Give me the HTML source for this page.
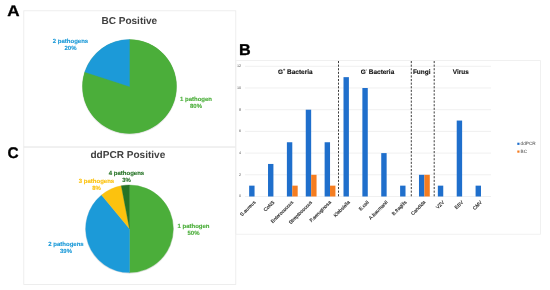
<!DOCTYPE html>
<html><head><meta charset="utf-8"><title>Figure</title>
<style>html,body{margin:0;padding:0;background:#fff;}svg{display:block;}</style></head>
<body>
<svg width="550" height="290" viewBox="0 0 550 290" font-family="Liberation Sans, Arial, sans-serif" text-rendering="geometricPrecision">
<rect width="550" height="290" fill="#ffffff"/>
<g fill="none" stroke="#e9e9e9" stroke-width="0.8">
<rect x="23.8" y="10.8" width="212" height="136.2"/>
<rect x="23.8" y="147" width="212" height="137.5"/>
<rect x="235.8" y="60.6" width="304.8" height="173.6" stroke="#ededed"/>
</g>
<circle cx="129.5" cy="87" r="47.6" fill="#000" opacity="0.10"/>
<circle cx="129.5" cy="86.5" r="46.8" fill="#4bae3a"/>
<path d="M129.50,86.50 L129.50,39.50 A47,47 0 1 1 84.80,71.98 Z" fill="#4bae3a" stroke="#4bae3a" stroke-width="0.35" stroke-linejoin="round"/>
<path d="M129.50,86.50 L84.80,71.98 A47,47 0 0 1 129.50,39.50 Z" fill="#1c9ad8" stroke="#1c9ad8" stroke-width="0.35" stroke-linejoin="round"/>
<circle cx="129.5" cy="229.3" r="44.4" fill="#000" opacity="0.10"/>
<path d="M129.50,228.80 L129.50,185.00 A43.8,43.8 0 0 1 129.50,272.60 Z" fill="#4bae3a" stroke="#4bae3a" stroke-width="0.35" stroke-linejoin="round"/>
<path d="M129.50,228.80 L129.50,272.60 A43.8,43.8 0 0 1 101.58,195.05 Z" fill="#1c9ad8" stroke="#1c9ad8" stroke-width="0.35" stroke-linejoin="round"/>
<path d="M129.50,228.80 L101.58,195.05 A43.8,43.8 0 0 1 121.29,185.78 Z" fill="#fcc20e" stroke="#fcc20e" stroke-width="0.35" stroke-linejoin="round"/>
<path d="M129.50,228.80 L121.29,185.78 A43.8,43.8 0 0 1 129.50,185.00 Z" fill="#267326" stroke="#267326" stroke-width="0.35" stroke-linejoin="round"/>
<g font-weight="bold" text-anchor="middle">
<text x="129.3" y="24.2" font-size="10.05" fill="#404040">BC Positive</text>
<text x="127.9" y="157.5" font-size="10.05" fill="#404040">ddPCR Positive</text>
<g font-size="6" fill="#1c9ad8" stroke="#1c9ad8" stroke-width="0.12"><text x="70.5" y="42.8">2 pathogens</text><text x="70.5" y="49.8">20%</text></g>
<g font-size="6" fill="#4bae3a" stroke="#4bae3a" stroke-width="0.12"><text x="196" y="101.2">1 pathogen</text><text x="196" y="108.2">80%</text></g>
<g font-size="6" fill="#267326" stroke="#267326" stroke-width="0.12"><text x="126.5" y="175.3">4 pathogens</text><text x="126.5" y="182.3">3%</text></g>
<g font-size="6" fill="#fcc20e" stroke="#fcc20e" stroke-width="0.12"><text x="96.5" y="183.3">3 pathogens</text><text x="96.5" y="190.3">8%</text></g>
<g font-size="6" fill="#1c9ad8" stroke="#1c9ad8" stroke-width="0.12"><text x="66" y="246">2 pathogens</text><text x="66" y="253">39%</text></g>
<g font-size="6" fill="#4bae3a" stroke="#4bae3a" stroke-width="0.12"><text x="193.5" y="227.5">1 pathogen</text><text x="193.5" y="234.5">50%</text></g>
</g>
<g font-weight="bold" fill="#000" stroke="#000" stroke-width="0.3" stroke-linejoin="round">
<text transform="translate(7.25,15.9) scale(1.11,1)" font-size="15.4">A</text>
<text transform="translate(239.1,54.7) scale(1.04,1)" font-size="15.6">B</text>
<text transform="translate(7.4,157.6) scale(1.0,1)" font-size="15.4">C</text>
</g>
<g stroke="#e9e9e9" stroke-width="0.7">
<line x1="245" y1="196.50" x2="491" y2="196.50"/>
<line x1="245" y1="174.80" x2="491" y2="174.80"/>
<line x1="245" y1="153.10" x2="491" y2="153.10"/>
<line x1="245" y1="131.40" x2="491" y2="131.40"/>
<line x1="245" y1="109.70" x2="491" y2="109.70"/>
<line x1="245" y1="88.00" x2="491" y2="88.00"/>
<line x1="245" y1="66.30" x2="491" y2="66.30"/>
</g>
<g font-size="3.7" fill="#555" text-anchor="end">
<text x="241.1" y="197.35">0</text>
<text x="241.1" y="175.65">2</text>
<text x="241.1" y="153.95">4</text>
<text x="241.1" y="132.25">6</text>
<text x="241.1" y="110.55">8</text>
<text x="241.1" y="88.85">10</text>
<text x="241.1" y="67.15">12</text>
</g>
<rect x="249.15" y="185.65" width="5.4" height="10.85" fill="#1f6fcc"/>
<text transform="translate(255.95,202.60) rotate(-45)" text-anchor="end" font-size="4.9" fill="#222" stroke="#222" stroke-width="0.15">S.aureus</text>
<rect x="268.02" y="163.95" width="5.4" height="32.55" fill="#1f6fcc"/>
<text transform="translate(274.82,202.60) rotate(-45)" text-anchor="end" font-size="4.9" fill="#222" stroke="#222" stroke-width="0.15">CoNS</text>
<rect x="286.89" y="142.25" width="5.4" height="54.25" fill="#1f6fcc"/>
<rect x="292.29" y="185.65" width="5.4" height="10.85" fill="#f57d20"/>
<text transform="translate(293.69,202.60) rotate(-45)" text-anchor="end" font-size="4.9" fill="#222" stroke="#222" stroke-width="0.15">Enterococcus</text>
<rect x="305.76" y="109.70" width="5.4" height="86.80" fill="#1f6fcc"/>
<rect x="311.16" y="174.80" width="5.4" height="21.70" fill="#f57d20"/>
<text transform="translate(312.56,202.60) rotate(-45)" text-anchor="end" font-size="4.9" fill="#222" stroke="#222" stroke-width="0.15">Streptococcus</text>
<rect x="324.63" y="142.25" width="5.4" height="54.25" fill="#1f6fcc"/>
<rect x="330.03" y="185.65" width="5.4" height="10.85" fill="#f57d20"/>
<text transform="translate(331.43,202.60) rotate(-45)" text-anchor="end" font-size="4.9" fill="#222" stroke="#222" stroke-width="0.15">P.aeruginosa</text>
<rect x="343.50" y="77.15" width="5.4" height="119.35" fill="#1f6fcc"/>
<text transform="translate(350.30,202.60) rotate(-45)" text-anchor="end" font-size="4.9" fill="#222" stroke="#222" stroke-width="0.15">Klebsiella</text>
<rect x="362.37" y="88.00" width="5.4" height="108.50" fill="#1f6fcc"/>
<text transform="translate(369.17,202.60) rotate(-45)" text-anchor="end" font-size="4.9" fill="#222" stroke="#222" stroke-width="0.15">E.coli</text>
<rect x="381.24" y="153.10" width="5.4" height="43.40" fill="#1f6fcc"/>
<text transform="translate(388.04,202.60) rotate(-45)" text-anchor="end" font-size="4.9" fill="#222" stroke="#222" stroke-width="0.15">A.baumanii</text>
<rect x="400.11" y="185.65" width="5.4" height="10.85" fill="#1f6fcc"/>
<text transform="translate(406.91,202.60) rotate(-45)" text-anchor="end" font-size="4.9" fill="#222" stroke="#222" stroke-width="0.15">B.fragilis</text>
<rect x="418.98" y="174.80" width="5.4" height="21.70" fill="#1f6fcc"/>
<rect x="424.38" y="174.80" width="5.4" height="21.70" fill="#f57d20"/>
<text transform="translate(425.78,202.60) rotate(-45)" text-anchor="end" font-size="4.9" fill="#222" stroke="#222" stroke-width="0.15">Candida</text>
<rect x="437.85" y="185.65" width="5.4" height="10.85" fill="#1f6fcc"/>
<text transform="translate(444.65,202.60) rotate(-45)" text-anchor="end" font-size="4.9" fill="#222" stroke="#222" stroke-width="0.15">VZV</text>
<rect x="456.72" y="120.55" width="5.4" height="75.95" fill="#1f6fcc"/>
<text transform="translate(463.52,202.60) rotate(-45)" text-anchor="end" font-size="4.9" fill="#222" stroke="#222" stroke-width="0.15">EBV</text>
<rect x="475.59" y="185.65" width="5.4" height="10.85" fill="#1f6fcc"/>
<text transform="translate(482.39,202.60) rotate(-45)" text-anchor="end" font-size="4.9" fill="#222" stroke="#222" stroke-width="0.15">CMV</text>
<g stroke="#333" stroke-width="0.95" stroke-dasharray="2.1,1.5">
<line x1="338.5" y1="61" x2="338.5" y2="196.5"/>
<line x1="411.3" y1="61" x2="411.3" y2="196.5"/>
<line x1="434.2" y1="61" x2="434.2" y2="196.5"/>
</g>
<g font-weight="bold" font-size="6.45" fill="#111" stroke="#111" stroke-width="0.12" text-anchor="middle">
<text x="295.3" y="73.6">G<tspan font-size="3.8" dy="-2.4">+</tspan><tspan dy="2.4"> Bacteria</tspan></text>
<text x="377.5" y="73.6">G<tspan font-size="3.8" dy="-2.4">-</tspan><tspan dy="2.4"> Bacteria</tspan></text>
<text x="421.7" y="73.6">Fungi</text>
<text x="460.8" y="73.6">Virus</text>
</g>
<rect x="517.3" y="142.7" width="2.2" height="2.2" fill="#1f6fcc"/>
<rect x="517.3" y="150.5" width="2.2" height="2.2" fill="#f57d20"/>
<g font-size="4.7" fill="#444"><text x="520.6" y="145.3">ddPCR</text><text x="520.6" y="153.3">BC</text></g>
</svg>
</body></html>
